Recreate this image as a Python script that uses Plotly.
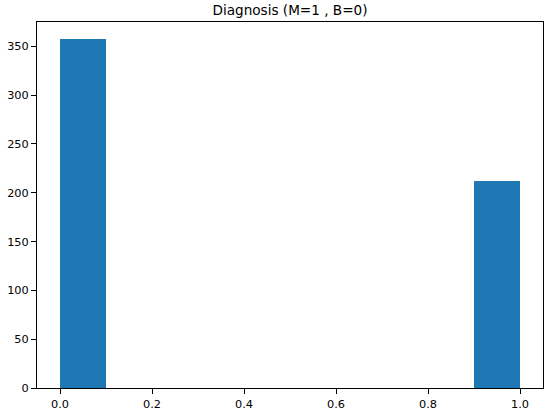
import numpy as np
import plotly.graph_objects as go

# histogram of diagnosis (10 bins between 0 and 1)
bin_edges = [0.0, 0.1, 0.2, 0.3, 0.4, 0.5, 0.6, 0.7, 0.8, 0.9, 1.0]
counts = [357, 0, 0, 0, 0, 0, 0, 0, 0, 212]
x_ticks = [0.0, 0.2, 0.4, 0.6, 0.8, 1.0]
x_tick_labels = ["0.0", "0.2", "0.4", "0.6", "0.8", "1.0"]
y_ticks = [0, 50, 100, 150, 200, 250, 300, 350]

edges = np.array(bin_edges)
centers = (edges[:-1] + edges[1:]) / 2
widths = edges[1:] - edges[:-1]

fig = go.Figure()
fig.add_trace(go.Bar(
    x=centers,
    y=counts,
    width=widths,
    marker=dict(color="#1f77b4", line=dict(width=0)),
    hoverinfo="skip",
))

axis_style = dict(
    showline=True, linecolor="black", linewidth=1, mirror=True,
    ticks="outside", ticklen=5, tickcolor="black", tickwidth=1,
    showgrid=False, zeroline=False, automargin=False,
    tickfont=dict(size=11.3, color="black"),
)

fig.update_layout(
    width=547, height=412,
    margin=dict(l=37, r=4, t=22, b=24),
    paper_bgcolor="white", plot_bgcolor="white",
    font=dict(family="DejaVu Sans", size=11.3, color="black"),
    title=dict(text="Diagnosis (M=1 , B=0)", x=0.5, xref="paper", xanchor="center",
               y=1 - 10 / 412, yref="container", yanchor="middle", font=dict(size=13.6)),
    showlegend=False,
    bargap=0,
)
fig.update_xaxes(range=[-0.05, 1.05], tickvals=x_ticks, ticktext=x_tick_labels, **axis_style)
fig.update_yaxes(range=[0, max(counts) * 1.05], tickvals=y_ticks, **axis_style)

# drop the default page margin so the figure sits at the window's corner
fig.write_html("out.html", config={"displayModeBar": False},
               post_script="document.body.style.margin='0';")
